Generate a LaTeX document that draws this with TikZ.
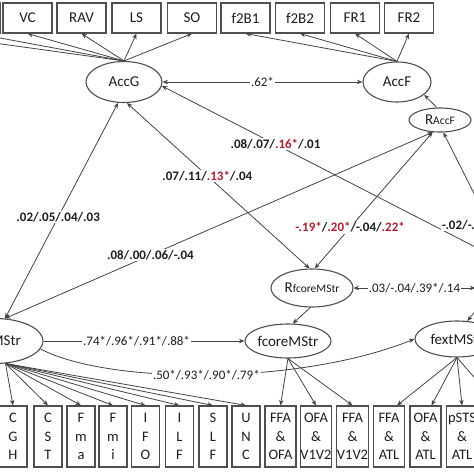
\documentclass[tikz,border=0pt]{standalone}
\usepackage{fontspec}
\setmainfont{Carlito}
\usetikzlibrary{arrows.meta,shapes.geometric}
\definecolor{ln}{HTML}{454545}
\definecolor{bx}{HTML}{505050}
\definecolor{tx}{HTML}{1E1E1E}
\definecolor{sig}{HTML}{B02030}
\newcommand{\Rsub}[1]{{\fontsize{15}{18}\selectfont R}{\fontsize{11.5}{13}\selectfont #1}}
\newcommand{\sg}[1]{\textcolor{sig}{#1}}
\begin{document}
\begin{tikzpicture}[x=1pt,y=-1pt,
  box/.style={draw=bx, line width=1.1pt, minimum width=49pt, minimum height=30pt, inner sep=0pt, text=tx, font=\fontsize{15}{18}\selectfont},
  vbox/.style={draw=bx, line width=1.1pt, minimum width=28pt, minimum height=61pt, inner sep=0pt, align=center, text=tx, font=\fontsize{14.5}{18.5}\selectfont},
  wbox/.style={vbox, minimum width=31pt},
  lat/.style={draw=bx, line width=1.1pt, ellipse, inner sep=0pt, text=tx, font=\fontsize{15}{18}\selectfont},
  arr/.style={draw=ln, line width=0.8pt, -{Stealth[length=5.5pt,width=4.5pt]}},
  darr/.style={draw=ln, line width=0.8pt, {Stealth[length=5.5pt,width=4.5pt]}-{Stealth[length=5.5pt,width=4.5pt]}},
  lab/.style={fill=white, inner sep=1pt, text=tx, font=\fontsize{13}{15}\selectfont},
  blab/.style={fill=white, inner sep=1pt, text=tx, font=\fontsize{13}{15}\selectfont\bfseries},
]
\useasboundingbox (0,0) rectangle (474,474);
\clip (0,0) rectangle (474,474);
\fill[white] (0,0) rectangle (474,474);

% top indicator boxes
\node[box] (xb) at (-24,18) {};
\coordinate (xa) at (-78,33);
\node[box] (vc) at (27.5,18) {VC};
\node[box] (rav) at (81.5,18) {RAV};
\node[box] (ls) at (136.5,18) {LS};
\node[box] (so) at (192,18) {SO};
\node[box] (f2b1) at (245.5,18) {f2B1};
\node[box] (f2b2) at (300,18) {f2B2};
\node[box] (fr1) at (355,18) {FR1};
\node[box] (fr2) at (409,18) {FR2};

% latent variables
\node[lat, minimum width=76pt, minimum height=41pt] (accg) at (124,82) {AccG};
\node[lat, minimum width=68pt, minimum height=40pt] (accf) at (397,82) {AccF};
\node[lat, minimum width=62pt, minimum height=24pt] (raccf) at (440,120) {\Rsub{AccF}};
\node[lat, minimum width=82pt, minimum height=38pt] (rfcore) at (312,288) {\Rsub{fcoreMStr}};
\node[lat, minimum width=82pt, minimum height=38pt] (rfext) at (517,288) {};
\node[lat, minimum width=84pt, minimum height=34pt] (fcore) at (288,341) {fcoreMStr};
\node[lat, minimum width=84pt, minimum height=36pt] (fext) at (457,339) {fextMStr};
\node[lat, minimum width=96pt, minimum height=45pt] (mstr) at (-5,341) {};
\node[anchor=east, inner sep=0pt, text=tx, font=\fontsize{15}{18}\selectfont] (mstrlab) at (21,341) {MStr};

% bottom indicator boxes
\node[vbox] (cgh) at (13,436.5) {C\\G\\H};
\node[vbox] (cst) at (48,436.5) {C\\S\\T};
\node[vbox] (fma) at (81,436.5) {F\\m\\a};
\node[vbox] (fmi) at (113,436.5) {F\\m\\i};
\node[vbox] (ifo) at (145.5,436.5) {I\\F\\O};
\node[vbox] (ilf) at (179.5,436.5) {I\\L\\F};
\node[vbox] (slf) at (213,436.5) {S\\L\\F};
\node[vbox] (unc) at (246,436.5) {U\\N\\C};
\node[wbox] (ffaofa) at (280.5,436.5) {FFA\\\&\\OFA};
\node[wbox] (ofav) at (316,436.5) {OFA\\\&\\V1V2};
\node[wbox] (ffav) at (352.5,436.5) {FFA\\\&\\V1V2};
\node[wbox] (ffaatl) at (389,436.5) {FFA\\\&\\ATL};
\node[wbox] (ofaatl) at (425.5,436.5) {OFA\\\&\\ATL};
\node[wbox] (pstsatl) at (462,436.5) {pSTS\\\&\\ATL};
\node[wbox] (offbox) at (498.5,436.5) {};

% loadings top
\foreach \b in {xb,vc,rav,ls,so} \draw[arr] (accg.north) -- (\b.south);
\draw[arr] (accg.north) -- (xa);
\foreach \b in {f2b1,f2b2,fr1,fr2} \draw[arr] (accf.north) -- (\b.south);

% loadings bottom
\foreach \b in {cgh,cst,fma,fmi,ifo,ilf,slf,unc} \draw[arr] (mstr.-65) -- (\b.north);
\foreach \b in {ffaofa,ofav,ffav} \draw[arr] (fcore.south) -- (\b.north);
\draw[arr] (fext.south) -- ([xshift=8pt]ffaatl.north);
\draw[arr] (fext.south) -- ([xshift=6pt]ofaatl.north);
\draw[arr] (fext.south) -- (pstsatl.north);
\draw[arr] (fext.south) -- (offbox.north);

% structural paths
\draw[darr] (accg.east) -- node[lab] {.62*} (accf.west);
\draw[arr] (raccf.105) -- (accf.-25);
\draw[arr] (rfcore.-95) -- (fcore.75);
\draw[arr] (rfext.200) -- (fext.60);
\draw[arr] (mstr.east) -- node[lab, pos=0.463] {.74*/.96*/.91*/.88*} (fcore.west);
\draw[arr] (mstr.-10) .. controls (110,385) and (300,385) .. node[lab, pos=0.49] {.50*/.93*/.90*/.79*} (fext.west);
\draw[darr] (rfcore.east) -- node[lab] {.03/-.04/.39*/.14} (rfext.west);

% correlations
\draw[darr] (accg.254) -- node[blab, pos=0.53] {.02/.05/.04/.03} (mstr.66);
\draw[darr] (mstr.66) -- node[blab, pos=0.34] {.08/.00/.06/-.04} (raccf.239);
\draw[darr] (accg.278) -- node[blab, pos=0.44] {.07/.11/\sg{.13*}/.04} (rfcore.97);
\draw[darr] (accg.354) -- node[blab, pos=0.32] {.08/.07/\sg{.16*}/.01} (rfext.north);
\draw[darr] (raccf.239) -- node[blab, pos=0.7] {\sg{-.19*}/\sg{.20*}/-.04/\sg{.22*}} (rfcore.82);
\draw[darr] (raccf.285) -- (rfext.105);
\node[blab, anchor=west] (lblx) at (441,225) {-.02/-.};
\end{tikzpicture}
\end{document}
